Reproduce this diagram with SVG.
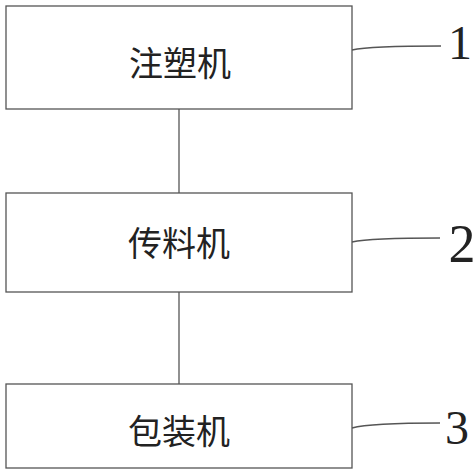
<svg xmlns="http://www.w3.org/2000/svg" width="474" height="474" viewBox="0 0 474 474">
<style>
.box{fill:#fff;stroke:#555;stroke-width:1.3}
.lbl{font-family:"Noto Sans CJK SC","Noto Sans CJK JP",sans-serif;font-size:34px;fill:#222;text-anchor:middle;dominant-baseline:central}
.num{font-family:"Liberation Serif","DejaVu Serif",serif;fill:#222;text-anchor:middle}
.ln{fill:none;stroke:#555;stroke-width:1.3}
</style>
<rect width="474" height="474" fill="#fff"/>
<g id="connectors">
<line class="ln" x1="179" y1="109" x2="179" y2="193"/>
<line class="ln" x1="179" y1="292" x2="179" y2="384"/>
<path class="ln" d="M352,50 Q370,46 441,46"/>
<path class="ln" d="M352,242 Q370,238 440,238"/>
<path class="ln" d="M352,428 Q370,423 440,423"/>
</g>
<g id="node1">
<rect class="box" x="6" y="6" width="346" height="103"/>
<text class="lbl" x="180" y="61">注塑机</text>
</g>
<g id="node2">
<rect class="box" x="6" y="193" width="346" height="99"/>
<text class="lbl" x="179" y="241">传料机</text>
</g>
<g id="node3">
<rect class="box" x="6" y="384" width="346" height="84"/>
<text class="lbl" x="179" y="429">包装机</text>
</g>
<g id="label1"><text class="num" x="460" y="59" font-size="48">1</text></g>
<g id="label2"><text class="num" x="462" y="262" font-size="54">2</text></g>
<g id="label3"><text class="num" x="457" y="444" font-size="48">3</text></g>
</svg>
